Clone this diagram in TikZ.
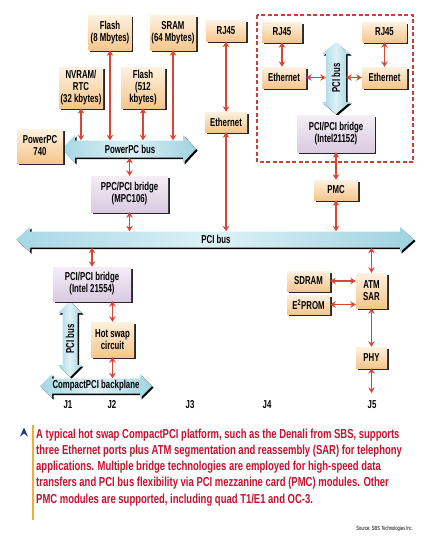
\documentclass[tikz,border=0pt]{standalone}
\usepackage{fontspec}
\setmainfont{Liberation Sans}
\newfontfamily\condfont[FakeStretch=0.68]{Liberation Sans}
\newfontfamily\captfont[FakeStretch=0.73]{Liberation Sans}
\usetikzlibrary{arrows.meta,shadows}
\definecolor{peachT}{HTML}{FEF1E0}
\definecolor{peachB}{HTML}{F5C68C}
\definecolor{lavT}{HTML}{F4EDF5}
\definecolor{lavB}{HTML}{DACAE1}
\definecolor{cyanL}{HTML}{A6D7E5}
\definecolor{cyanM}{HTML}{DDF1F6}
\definecolor{cyanR}{HTML}{9FD2DF}
\definecolor{arrred}{HTML}{DA4636}
\definecolor{dashred}{HTML}{C9403A}
\definecolor{captred}{HTML}{C41230}
\definecolor{triblue}{HTML}{1E3A78}
\definecolor{barorange}{HTML}{F0AE38}
\tikzset{
  box/.style={top color=peachT, bottom color=peachB, draw=none,
    drop shadow={shadow xshift=1.6pt, shadow yshift=-1.6pt, fill=black!85, opacity=1},
    font=\condfont\bfseries\fontsize{11.5}{12}\selectfont, align=center,
    inner sep=1pt, text=black},
  bridgebox/.style={box, top color=lavT, bottom color=lavB},
  buslabel/.style={font=\condfont\bfseries\fontsize{11.5}{12}\selectfont, inner sep=0pt, text=black},
  conn/.style={draw=arrred, line width=1.6pt, {Stealth[length=5.5pt,width=6.5pt]}-{Stealth[length=5.5pt,width=6.5pt]}},
  jlabel/.style={font=\condfont\bfseries\fontsize{11.5}{12}\selectfont, inner sep=0pt},
  captline/.style={font=\captfont\bfseries\fontsize{13}{16}\selectfont, text=captred, anchor=base west, inner sep=0pt},
  dashedframe/.style={draw=dashred, line width=1.5pt, dash pattern=on 4pt off 2.5pt},
}
% horizontal double bus arrow: x1, x2, yc, shaft half, head half, head length
\newcommand\hbusshape[6]{%
  \fill[black, shift={(1.6,1.6)}] (#1,#3) -- (#1+#6,#3-#5) -- (#1+#6,#3-#4) -- (#2-#6,#3-#4) -- (#2-#6,#3-#5) -- (#2,#3) -- (#2-#6,#3+#5) -- (#2-#6,#3+#4) -- (#1+#6,#3+#4) -- (#1+#6,#3+#5) -- cycle;
  \shade[left color=cyanL, right color=cyanR, middle color=cyanM] (#1,#3) -- (#1+#6,#3-#5) -- (#1+#6,#3-#4) -- (#2-#6,#3-#4) -- (#2-#6,#3-#5) -- (#2,#3) -- (#2-#6,#3+#5) -- (#2-#6,#3+#4) -- (#1+#6,#3+#4) -- (#1+#6,#3+#5) -- cycle;
}
% vertical double bus arrow: y1, y2, xc, shaft half, head half, head length
\newcommand\vbusshape[6]{%
  \fill[black, shift={(1.6,1.6)}] (#3,#1) -- (#3+#5,#1+#6) -- (#3+#4,#1+#6) -- (#3+#4,#2-#6) -- (#3+#5,#2-#6) -- (#3,#2) -- (#3-#5,#2-#6) -- (#3-#4,#2-#6) -- (#3-#4,#1+#6) -- (#3-#5,#1+#6) -- cycle;
  \shade[left color=cyanL, right color=cyanR, middle color=cyanM] (#3,#1) -- (#3+#5,#1+#6) -- (#3+#4,#1+#6) -- (#3+#4,#2-#6) -- (#3+#5,#2-#6) -- (#3,#2) -- (#3-#5,#2-#6) -- (#3-#4,#2-#6) -- (#3-#4,#1+#6) -- (#3-#5,#1+#6) -- cycle;
}
\begin{document}
\begin{tikzpicture}[x=1pt, y=-1pt]
\useasboundingbox[fill=white] (0,0) rectangle (428,547);

% dashed frame
\draw[dashedframe] (257,15) rectangle (413,162);

% bus shapes
\hbusshape{62}{196}{149}{8.5}{14}{13}
\hbusshape{16}{414}{239.5}{8}{12.5}{14}
\vbusshape{42}{114}{336}{10}{14}{12}
\vbusshape{301}{377}{70}{7.5}{12}{12}
\hbusshape{40}{152}{386}{7.5}{12}{12}

% bus labels
\node[buslabel, minimum height=17pt] (ppcbus) at (130,149) {PowerPC bus};
\node[buslabel, minimum height=16pt] (pcibus) at (216,239.5) {PCI bus};
\node[buslabel, minimum height=20pt, rotate=90] (pcibusv) at (336,78) {PCI bus};
\node[buslabel, minimum height=15pt, rotate=90] (pcibusl) at (70,339) {PCI bus};
\node[buslabel, minimum height=15pt] (backplane) at (96,386) {CompactPCI backplane};

% boxes
\node[box, minimum width=43pt, minimum height=35pt] (flash8) at (110,32.5) {Flash\\(8 Mbytes)};
\node[box, minimum width=46pt, minimum height=35pt] (sram) at (173,32.5) {SRAM\\(64 Mbytes)};
\node[box, minimum width=44pt, minimum height=41pt] (nvram) at (81,87.5) {NVRAM/\\RTC\\(32 kbytes)};
\node[box, minimum width=44pt, minimum height=41pt] (flash512) at (143,87.5) {Flash\\(512\\kbytes)};
\node[box, minimum width=46pt, minimum height=34pt] (ppc740) at (40,146) {PowerPC\\740};
\node[bridgebox, minimum width=77pt, minimum height=36pt] (mpc106) at (129.5,194) {PPC/PCI bridge\\(MPC106)};
\node[box, minimum width=40pt, minimum height=21pt] (rj45a) at (226,31) {RJ45};
\node[box, minimum width=42pt, minimum height=20pt] (ethmid) at (226,122) {Ethernet};
\node[box, minimum width=40pt, minimum height=20pt] (rj45b) at (282,32) {RJ45};
\node[box, minimum width=44pt, minimum height=20pt] (rj45c) at (384.5,32) {RJ45};
\node[box, minimum width=44pt, minimum height=21pt] (ethb) at (284,77.5) {Ethernet};
\node[box, minimum width=45pt, minimum height=21pt] (ethc) at (384.5,77.5) {Ethernet};
\node[bridgebox, minimum width=77pt, minimum height=37pt] (br21152) at (336,133.5) {PCI/PCI bridge\\(Intel21152)};
\node[box, minimum width=44pt, minimum height=20pt] (pmc) at (336,190) {PMC};
\node[bridgebox, minimum width=78pt, minimum height=34pt] (br21554) at (92,284) {PCI/PCI bridge\\(Intel 21554)};
\node[box, minimum width=43pt, minimum height=35pt] (hotswap) at (112.5,339.5) {Hot swap\\circuit};
\node[box, minimum width=43pt, minimum height=20pt] (sdram) at (308.5,281) {SDRAM};
\node[box, minimum width=43pt, minimum height=19pt] (e2prom) at (308.5,304.5) {E\textsuperscript{2}PROM};
\node[box, minimum width=31pt, minimum height=35pt] (atm) at (371.5,290.5) {ATM\\SAR};
\node[box, minimum width=31pt, minimum height=21pt] (phy) at (371.5,357.5) {PHY};
\coordinate (phyout) at (371.5,393);

% connectors
\draw[conn] (nvram.south) -- (nvram.south |- ppcbus.north);
\draw[conn] (flash8.south) -- (flash8.south |- ppcbus.north);
\draw[conn] (flash512.south) -- (flash512.south |- ppcbus.north);
\draw[conn] (sram.south) -- (sram.south |- ppcbus.north);
\draw[conn] (mpc106.north) -- (mpc106.north |- ppcbus.south);
\draw[conn] (mpc106.south) -- (mpc106.south |- pcibus.north);
\draw[conn] (rj45a.south) -- (ethmid.north);
\draw[conn] (ethmid.south) -- (ethmid.south |- pcibus.north);
\draw[conn] (rj45b.south) -- (rj45b.south |- ethb.north);
\draw[conn] (rj45c.south) -- (ethc.north);
\draw[conn] (ethb.east) -- (ethb.east -| pcibusv.north);
\draw[conn] (ethc.west) -- (ethc.west -| pcibusv.south);
\draw[conn] (br21152.south) -- (pmc.north);
\draw[conn] (pmc.south) -- (pmc.south |- pcibus.north);
\draw[conn] (br21554.north) -- (br21554.north |- pcibus.south);
\draw[conn] (hotswap.north) -- (hotswap.north |- br21554.south);
\draw[conn] (hotswap.south) -- (hotswap.south |- backplane.north);
\draw[conn] (atm.north) -- (atm.north |- pcibus.south);
\draw[conn] (sdram.east) -- (sdram.east -| atm.west);
\draw[conn] (e2prom.east) -- (e2prom.east -| atm.west);
\draw[conn] (atm.south) -- (phy.north);
\draw[conn] (phy.south) -- (phyout);

% J labels
\node[jlabel] (j1) at (68,405) {J1};
\node[jlabel] (j2) at (112,405) {J2};
\node[jlabel] (j3) at (190,405) {J3};
\node[jlabel] (j4) at (267,405) {J4};
\node[jlabel] (j5) at (372,405) {J5};

% caption
\fill[triblue] (20,436.5) -- (24,427.5) -- (28,436.5) -- (24,433.5) -- cycle;
\fill[barorange] (32,425) rectangle (33.6,520);
\node[captline] (cap1) at (36,438) {A typical hot swap CompactPCI platform, such as the Denali from SBS, supports};
\node[captline] (cap2) at (36,454.3) {three Ethernet ports plus ATM segmentation and reassembly (SAR) for telephony};
\node[captline] (cap3) at (36,470.6) {applications. Multiple bridge technologies are employed for high-speed data};
\node[captline] (cap4) at (36,486.9) {transfers and PCI bus flexibility via PCI mezzanine card (PMC) modules. Other};
\node[captline] (cap5) at (36,503.2) {PMC modules are supported, including quad T1/E1 and OC-3.};
\node[font=\condfont\fontsize{6}{7}\selectfont, anchor=base east, inner sep=0pt] (src) at (413,530) {Source: SBS Technologies Inc.};
\end{tikzpicture}
\end{document}
